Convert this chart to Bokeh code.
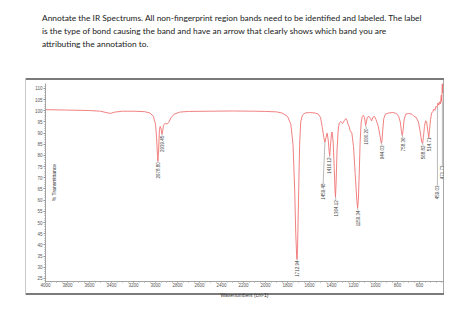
import math
from bokeh.plotting import figure
from bokeh.layouts import column
from bokeh.models import Range1d, FixedTicker, ColumnDataSource, Div
from bokeh.core.properties import value
from bokeh.embed import file_html
from bokeh.resources import INLINE

# ---------------- data ----------------
title_lines = [
    "Annotate the IR Spectrums. All non-fingerprint region bands need to be identified and labeled. The label",
    "is the type of bond causing the band and have an arrow that clearly shows which band you are",
    "attributing the annotation to.",
]

wavenumber = [4000, 3800, 3600, 3500, 3440, 3410, 3370, 3300, 3200, 3100, 3050, 3020, 3000,
              2990, 2982, 2978, 2972, 2965, 2958, 2950, 2942, 2936, 2928, 2910, 2895, 2880,
              2860, 2830, 2780, 2700, 2500, 2300, 2100, 2000, 1900, 1850, 1800, 1770, 1750,
              1735, 1725, 1716, 1713, 1709, 1700, 1690, 1680, 1665, 1640, 1600, 1550, 1520,
              1500, 1485, 1470, 1460, 1450, 1440, 1430, 1420, 1416, 1410, 1400, 1395, 1385,
              1375, 1368, 1364, 1358, 1350, 1340, 1330, 1315, 1300, 1285, 1270, 1260, 1250,
              1240, 1230, 1215, 1200, 1185, 1170, 1163, 1156, 1148, 1140, 1130, 1120, 1110,
              1100, 1090, 1082, 1075, 1060, 1045, 1035, 1025, 1010, 995, 975, 960, 948, 942,
              935, 925, 910, 880, 840, 810, 790, 775, 765, 757, 750, 740, 725, 700, 670, 650,
              630, 610, 595, 580, 572, 565, 555, 545, 535, 525, 516, 510, 500, 490, 480, 470,
              460, 450, 440, 432, 425, 418, 410, 402, 398, 393, 390, 386]
transmittance = [100.5, 100.3, 100.1, 99.8, 99.1, 98.8, 99.4, 99.8, 99.8, 99.6, 99.0, 97.5, 94.0,
                 88.0, 80.0, 77.5, 82.0, 91.0, 93.0, 92.0, 89.5, 90.5, 93.5, 94.5, 94.0, 94.8,
                 96.8, 98.5, 99.4, 99.7, 99.8, 99.9, 99.8, 99.7, 99.5, 99.0, 97.5, 94.0, 85.0,
                 65.0, 45.0, 34.0, 33.5, 38.0, 60.0, 85.0, 95.0, 98.0, 99.0, 99.2, 99.0, 98.5,
                 97.0, 93.0, 88.0, 86.0, 88.0, 90.0, 87.0, 81.0, 80.0, 84.0, 90.0, 90.5, 86.0,
                 74.0, 64.0, 61.5, 68.0, 82.0, 91.0, 94.5, 95.2, 94.3, 95.5, 96.5, 95.8, 94.0,
                 93.0, 91.0, 90.0, 84.0, 72.0, 60.0, 56.5, 60.0, 72.0, 86.0, 95.0, 97.5, 98.0,
                 97.0, 93.5, 95.0, 97.0, 97.5, 96.5, 95.5, 97.0, 97.5, 96.0, 93.0, 89.0, 85.5, 86.0,
                 91.0, 96.5, 98.5, 99.0, 99.2, 98.8, 97.5, 95.0, 91.0, 89.0, 91.0, 96.0, 98.5, 98.8, 98.5, 97.5,
                 97.0, 95.0, 91.0, 86.0, 85.4, 88.0, 93.0, 95.5, 95.0, 91.0, 88.0, 91.0, 96.0, 99.0, 99.5, 100.8,
                 100.2, 102.0, 101.5, 103.5, 102.5, 104.0, 103.0, 107.0, 104.0, 112.0, 108.0, 116.0]

peak_labels = ["2978.80", "2939.45", "1712.94", "1459.48", "1416.12", "1364.12", "1159.34",
               "1090.20", "944.03", "758.36", "568.82", "514.71", "471.73", "459.03"]
leader_wn = [2978, 2942, 1713, 1460, 1416, 1364, 1163, 1090, 948, 757, 572, 516, 392, 437]
leader_t = [77.5, 89.5, 33.5, 86.0, 80.0, 61.5, 56.5, 93.5, 85.5, 89.0, 85.4, 88.0, 104.0, 101.5]
label_wn = [2978, 2939, 1713, 1476, 1420, 1360, 1159, 1082, 940, 752, 568, 510, 392, 437]
label_top = [77.0, 88.8, 33.0, 67.5, 79.1, 60.0, 55.4, 92.1, 84.5, 88.0, 84.5, 88.0, 75.5, 66.6]

y_ticks = list(range(25, 115, 5))
x_ticks = list(range(600, 4200, 200))

# ---------------- layout constants ----------------
W = 474
TOP = 78                      # height of the text block above the chart
FL, FR, FT, FB = 45, 443, 83, 281   # plot frame in page pixels
PH = 313 - TOP

p = figure(width=W, height=PH, output_backend="svg", toolbar_location=None,
           x_range=Range1d(4000, 382), y_range=Range1d(23.6, 112.2),
           min_border_left=FL, min_border_right=W - FR, min_border_top=FT - TOP,
           min_border_bottom=313 - FB, margin=0)
p.outline_line_color = None
p.grid.grid_line_color = None
p.background_fill_color = None
p.border_fill_color = None

for ax in (p.xaxis[0], p.yaxis[0]):
    ax.axis_line_color = "#8c8c8c"
    ax.axis_line_width = 0.8
    ax.major_tick_line_color = "#8c8c8c"
    ax.minor_tick_line_color = "#a0a0a0"
    ax.major_tick_in = 0
    ax.major_tick_out = 2
    ax.minor_tick_in = 0
    ax.minor_tick_out = 1
    ax.major_label_text_font = "Liberation Sans"
    ax.major_label_text_font_size = "4.5px"
    ax.major_label_text_color = "#555555"
    ax.axis_label_text_font = "Liberation Sans"
    ax.axis_label_text_font_size = "5px"
    ax.axis_label_text_font_style = "normal"
    ax.axis_label_text_color = "#333333"
    ax.major_label_standoff = 1

p.xaxis.ticker = FixedTicker(ticks=x_ticks, minor_ticks=list(range(400, 4001, 50)))
p.yaxis.ticker = FixedTicker(ticks=y_ticks, minor_ticks=list(range(24, 112, 1)))
p.xaxis.axis_label = "Wavenumbers (cm-1)"
p.yaxis.axis_label = "% Transmittance"
p.xaxis.major_tick_out = 1
p.xaxis.major_label_standoff = 0
p.xaxis.axis_label_standoff = 2
p.yaxis.axis_label_standoff = -25

# spectrum
p.line(wavenumber, transmittance, line_color="#ef7373", line_width=0.9)

# leader lines + peak labels
lead = ColumnDataSource(dict(x0=leader_wn, y0=leader_t, x1=label_wn, y1=label_top))
p.segment("x0", "y0", "x1", "y1", source=lead, line_color="#8a8a8a", line_width=0.6)
lab = ColumnDataSource(dict(x=label_wn, y=label_top, t=peak_labels))
p.text("x", "y", text="t", source=lab, angle=math.pi / 2, text_align="right",
       text_baseline="middle", text_font=value("Liberation Sans"),
       text_font_size="4.5px", text_color="#444444")

# text block above the chart
html = ('<div style="font-family:Lato,sans-serif;font-size:8.4px;line-height:13px;'
        'color:#1a1a1a;padding:11.5px 0 0 42px;white-space:nowrap;margin:0">'
        + "<br>".join(title_lines) + "</div>")
div = Div(text=html, width=W, height=TOP, margin=0)

# document frame lines drawn as CSS background behind the transparent canvas
bg = ", ".join([
    "linear-gradient(#7a7a7a,#7a7a7a) 26px 78px / 418px 2px no-repeat",
    "linear-gradient(#7a7a7a,#7a7a7a) 26px 293px / 418px 2px no-repeat",
    "linear-gradient(#c8c8c8,#c8c8c8) 25px 78px / 1px 217px no-repeat",
    "linear-gradient(#a8a8a8,#a8a8a8) 443px 80px / 1px 213px no-repeat",
    "#ffffff",
])
root = column(div, p, spacing=0, margin=0, styles={"background": bg})

open("out.html", "w").write(file_html(root, INLINE))
